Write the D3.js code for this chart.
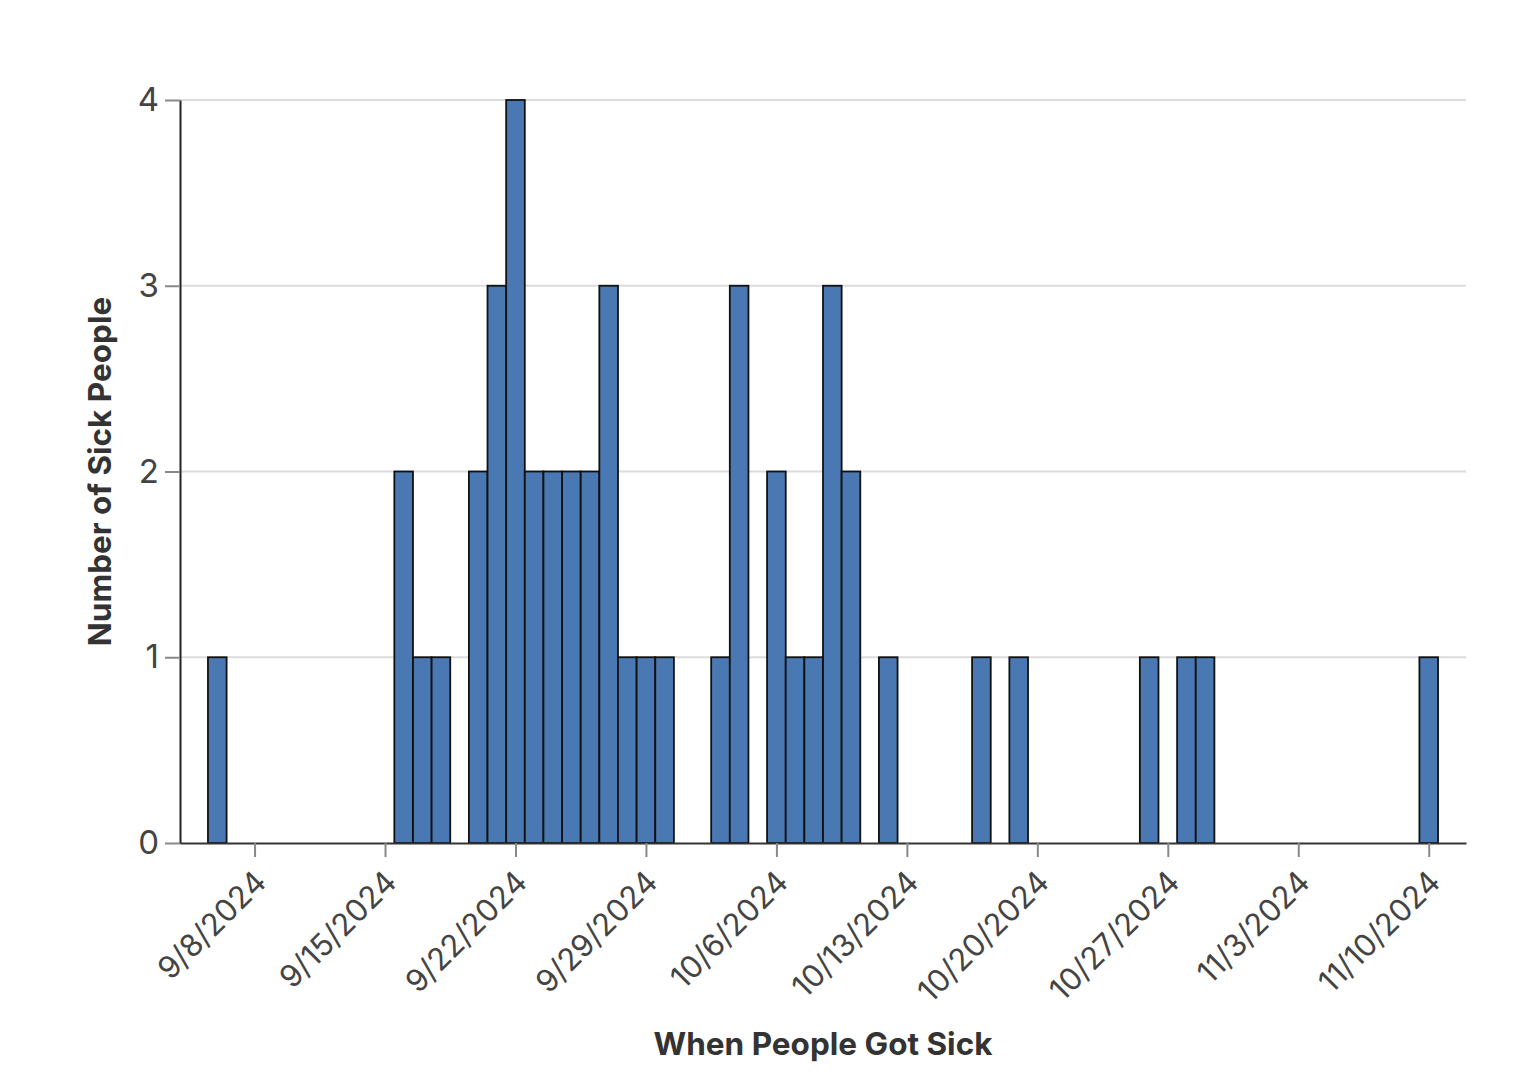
<!DOCTYPE html>
<html><head><meta charset="utf-8">
<script src="https://cdn.jsdelivr.net/npm/d3@7"></script>
<style>body{margin:0;background:#fff}svg{display:block}text{font-family:Inter,"Noto Sans",sans-serif}</style>
</head><body>
<svg id="c" width="1536" height="1088"></svg>
<script>
const dates = ["2024-09-06","2024-09-16","2024-09-17","2024-09-18","2024-09-20","2024-09-21","2024-09-22","2024-09-23","2024-09-24","2024-09-25","2024-09-26","2024-09-27","2024-09-28","2024-09-29","2024-09-30","2024-10-03","2024-10-04","2024-10-06","2024-10-07","2024-10-08","2024-10-09","2024-10-10","2024-10-12","2024-10-17","2024-10-19","2024-10-26","2024-10-28","2024-10-29","2024-11-10"];
const counts = [1,2,1,1,2,3,4,2,2,2,2,3,1,1,1,1,3,2,1,1,3,2,1,1,1,1,1,1,1];
const yTicks = [0,1,2,3,4];
const xDomain = ["2024-09-04","2024-11-12"];
const xTitle = "When People Got Sick";
const yTitle = "Number of Sick People";

const svg = d3.select("#c");
const L=180, R=1466, T=100, B=843;
const parse = s => new Date(s+"T00:00:00Z");
const x = d3.scaleUtc().domain(xDomain.map(parse)).range([L,R]);
const y = d3.scaleLinear().domain([0,4]).range([B,T]);
const half = 12*3600*1000;

// gridlines
svg.append("g").selectAll("line").data(yTicks.filter(d=>d>0)).join("line")
  .attr("x1",L).attr("x2",R).attr("y1",d=>y(d)).attr("y2",d=>y(d))
  .attr("stroke","#dcdcdc").attr("stroke-width",2);

// bars
const data = dates.map((d,i)=>({d:parse(d), v:counts[i]}));
svg.append("g").selectAll("rect").data(data).join("rect")
  .attr("x",d=>x(new Date(+d.d-half)))
  .attr("width",d=>x(new Date(+d.d+half))-x(new Date(+d.d-half)))
  .attr("y",d=>y(d.v)).attr("height",d=>B-y(d.v))
  .attr("fill","#4a78b2").attr("stroke","#111").attr("stroke-width",1.8);

// x axis
const xTickVals = d3.utcSunday.range(parse("2024-09-08"), parse("2024-11-11"));
const fmt = d3.utcFormat("%-m/%-d/%Y");
const gx = svg.append("g").attr("transform",`translate(0,${B})`)
  .call(d3.axisBottom(x).tickValues(xTickVals).tickFormat(fmt).tickSize(14).tickSizeOuter(0));
gx.select(".domain").attr("stroke","#333").attr("stroke-width",2);
gx.selectAll(".tick line").attr("stroke","#888").attr("stroke-width",2);
gx.selectAll(".tick text").attr("font-size",31).attr("fill","#444")
  .attr("text-anchor","end").attr("dy",null).attr("y",0)
  .attr("transform","translate(13,41) rotate(-45)");

// y axis
const gy = svg.append("g").attr("transform",`translate(${L},0)`)
  .call(d3.axisLeft(y).tickValues(yTicks).tickFormat(d3.format("d")).tickSize(15).tickSizeOuter(0).tickPadding(6));
gy.select(".domain").attr("stroke","#222").attr("stroke-width",2);
gy.selectAll(".tick line").attr("stroke","#888").attr("stroke-width",2);
gy.selectAll(".tick text").attr("font-size",33).attr("fill","#444");

// titles
svg.append("text").attr("x",(L+R)/2).attr("y",1055).attr("text-anchor","middle")
  .attr("font-size",31.5).attr("font-weight","bold").attr("fill","#333").text(xTitle);
svg.append("text").attr("transform",`translate(111,${(T+B)/2}) rotate(-90)`).attr("text-anchor","middle")
  .attr("font-size",31.5).attr("font-weight","bold").attr("fill","#333").text(yTitle);
</script>
</body></html>
